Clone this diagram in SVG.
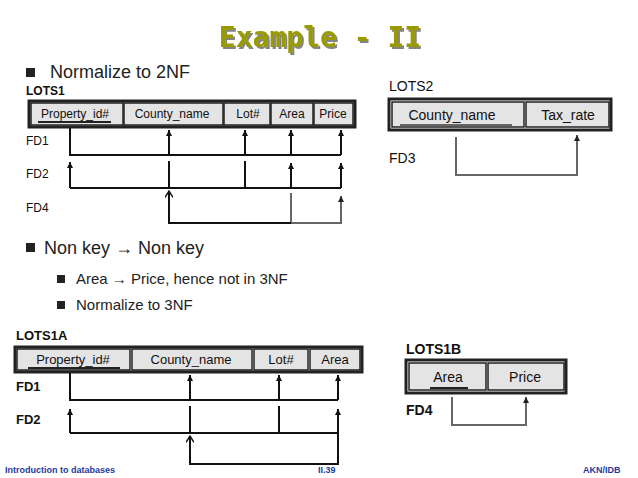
<svg xmlns="http://www.w3.org/2000/svg" width="638" height="478" viewBox="0 0 638 478">
<defs>
<marker id="ah" viewBox="0 0 10 10" refX="10" refY="5" markerWidth="10" markerHeight="6" orient="auto" markerUnits="userSpaceOnUse"><path d="M0,0 L10,5 L0,10 Z" fill="#111"/></marker>
<marker id="ag" viewBox="0 0 10 10" refX="10" refY="5" markerWidth="10" markerHeight="6" orient="auto" markerUnits="userSpaceOnUse"><path d="M0,0 L10,5 L0,10 Z" fill="#222"/></marker>
<marker id="ao" viewBox="0 0 10 10" refX="9" refY="5" markerWidth="8" markerHeight="8" orient="auto" markerUnits="userSpaceOnUse"><path d="M1,0 L9,5 L1,10" fill="none" stroke="#111" stroke-width="1.8"/></marker>
<filter id="sh" x="-10%" y="-20%" width="120%" height="150%"><feDropShadow dx="2" dy="2" stdDeviation="0.5" flood-color="#333" flood-opacity="0.6"/></filter>
</defs>
<style>
.t{font-family:"Liberation Sans",Arial,sans-serif;fill:#111}
.cell{fill:#e4e4e4;stroke:#222;stroke-width:1.5}
.box{fill:none;stroke:#222;stroke-width:3}
.ln{fill:none;stroke:#111;stroke-width:2}
.lg{fill:none;stroke:#666;stroke-width:2}
.lbl{font-size:12px}
.b{font-size:18px;fill:#222;font-family:"Liberation Sans",Arial,sans-serif}
.s{font-size:15px;fill:#222;font-family:"Liberation Sans",Arial,sans-serif}
.ul{stroke:#222;stroke-width:2}
</style>
<rect width="638" height="478" fill="#fff"/>
<g id="title">
<text x="320" y="47" text-anchor="middle" font-family="'DejaVu Sans Mono',monospace" font-weight="bold" font-size="28" fill="#999900" filter="url(#sh)">Example - II</text>
</g>
<g id="bullets">
<rect x="26" y="68" width="9" height="9" fill="#222"/>
<text x="50" y="78" class="b">Normalize to 2NF</text>
<rect x="26" y="243" width="9" height="9" fill="#222"/>
<text x="44" y="254" class="b">Non key → Non key</text>
<rect x="57" y="275" width="8" height="8" fill="#222"/>
<text x="76" y="284" class="s">Area → Price, hence not in 3NF</text>
<rect x="57" y="301" width="8" height="8" fill="#222"/>
<text x="76" y="310" class="s">Normalize to 3NF</text>
</g>
<g id="lots1">
<text x="26" y="95" class="t lbl" font-weight="bold">LOTS1</text>
<rect x="29" y="101" width="326" height="26" class="box"/>
<rect x="31" y="103" width="92" height="22" class="cell"/>
<rect x="124" y="103" width="99" height="22" class="cell"/>
<rect x="224" y="103" width="46" height="22" class="cell"/>
<rect x="271" y="103" width="42" height="22" class="cell"/>
<rect x="314" y="103" width="39" height="22" class="cell"/>
<text x="75" y="118" text-anchor="middle" class="t lbl">Property_id#</text>
<line x1="38" y1="122" x2="111" y2="122" class="ul"/>
<text x="172" y="118" text-anchor="middle" class="t lbl">County_name</text>
<text x="248" y="118" text-anchor="middle" class="t lbl">Lot#</text>
<text x="292" y="118" text-anchor="middle" class="t lbl">Area</text>
<text x="333" y="118" text-anchor="middle" class="t lbl">Price</text>
<text x="26" y="145" class="t lbl">FD1</text>
<text x="26" y="178" class="t lbl">FD2</text>
<text x="26" y="212" class="t lbl">FD4</text>
</g>
<g id="lots2">
<text x="389" y="91" class="t" font-size="14">LOTS2</text>
<rect x="389" y="99" width="222" height="31" class="box"/>
<rect x="392" y="102" width="132" height="25" class="cell"/>
<rect x="526" y="102" width="83" height="25" class="cell"/>
<text x="452" y="120" text-anchor="middle" class="t" font-size="14">County_name</text>
<line x1="400" y1="125" x2="512" y2="125" stroke="#666" stroke-width="2"/>
<text x="568" y="120" text-anchor="middle" class="t" font-size="14">Tax_rate</text>
<text x="389" y="163" class="t" font-size="14">FD3</text>
</g>
<g id="lots1a">
<text x="16" y="340" class="t" font-size="13" font-weight="bold">LOTS1A</text>
<rect x="15" y="347" width="347" height="25" class="box"/>
<rect x="17" y="349" width="113" height="21" class="cell"/>
<rect x="132" y="349" width="120" height="21" class="cell"/>
<rect x="254" y="349" width="54" height="21" class="cell"/>
<rect x="310" y="349" width="50" height="21" class="cell"/>
<text x="73" y="364" text-anchor="middle" class="t" font-size="13">Property_id#</text>
<line x1="28" y1="368" x2="120" y2="368" class="ul"/>
<text x="191" y="364" text-anchor="middle" class="t" font-size="13">County_name</text>
<text x="281" y="364" text-anchor="middle" class="t" font-size="13">Lot#</text>
<text x="335" y="364" text-anchor="middle" class="t" font-size="13">Area</text>
<text x="16" y="391" class="t" font-size="13" font-weight="bold">FD1</text>
<text x="16" y="424" class="t" font-size="13" font-weight="bold">FD2</text>
</g>
<g id="lots1b">
<text x="406" y="354" class="t" font-size="14" font-weight="bold">LOTS1B</text>
<rect x="406" y="360" width="160" height="33" class="box"/>
<rect x="409" y="363" width="77" height="27" class="cell"/>
<rect x="488" y="363" width="76" height="27" class="cell"/>
<text x="448" y="382" text-anchor="middle" class="t" font-size="14">Area</text>
<line x1="430" y1="388" x2="468" y2="388" class="ul"/>
<text x="525" y="382" text-anchor="middle" class="t" font-size="14">Price</text>
<text x="406" y="415" class="t" font-size="14" font-weight="bold">FD4</text>
</g>
<g id="connectors">
<path d="M70,128 V155 H341" class="ln"/>
<line x1="169" y1="155" x2="169" y2="130" class="ln" marker-end="url(#ah)"/>
<line x1="245" y1="155" x2="245" y2="130" class="ln" marker-end="url(#ah)"/>
<line x1="291" y1="155" x2="291" y2="130" class="ln" marker-end="url(#ah)"/>
<line x1="341" y1="155" x2="341" y2="130" class="ln" marker-end="url(#ah)"/>
<path d="M70,188 H341" class="ln"/>
<line x1="70" y1="188" x2="70" y2="162" class="ln" marker-end="url(#ah)"/>
<line x1="169" y1="161" x2="169" y2="188" class="ln"/>
<line x1="245" y1="161" x2="245" y2="188" class="ln"/>
<line x1="291" y1="188" x2="291" y2="163" class="ln" marker-end="url(#ah)"/>
<line x1="341" y1="188" x2="341" y2="163" class="ln" marker-end="url(#ah)"/>
<path d="M291,193 V223 H341 V196" class="lg" marker-end="url(#ag)"/>
<path d="M291,223 H169 V191" class="ln" marker-end="url(#ao)"/>
<path d="M456,137 V175 H577 V135" class="lg" marker-end="url(#ag)"/>
<path d="M70,373 V400 H338" class="ln"/>
<line x1="190" y1="400" x2="190" y2="375" class="ln" marker-end="url(#ah)"/>
<line x1="279" y1="400" x2="279" y2="375" class="ln" marker-end="url(#ah)"/>
<line x1="338" y1="400" x2="338" y2="375" class="ln" marker-end="url(#ah)"/>
<path d="M70,433 H338" class="ln"/>
<line x1="70" y1="433" x2="70" y2="409" class="ln" marker-end="url(#ah)"/>
<line x1="190" y1="406" x2="190" y2="433" class="ln"/>
<line x1="279" y1="406" x2="279" y2="433" class="ln"/>
<line x1="338" y1="433" x2="338" y2="409" class="ln" marker-end="url(#ah)"/>
<path d="M338,433 V464 H190 V436" class="ln" marker-end="url(#ao)"/>
<path d="M452,397 V425 H526 V397" class="lg" marker-end="url(#ag)"/>
</g>
<g id="footer" font-family="'Liberation Sans',Arial,sans-serif" font-size="9" font-weight="bold" fill="#1f3a9e">
<text x="5" y="473">Introduction to databases</text>
<text x="318" y="473">II.39</text>
<text x="583" y="473">AKN/IDB</text>
</g>
</svg>
